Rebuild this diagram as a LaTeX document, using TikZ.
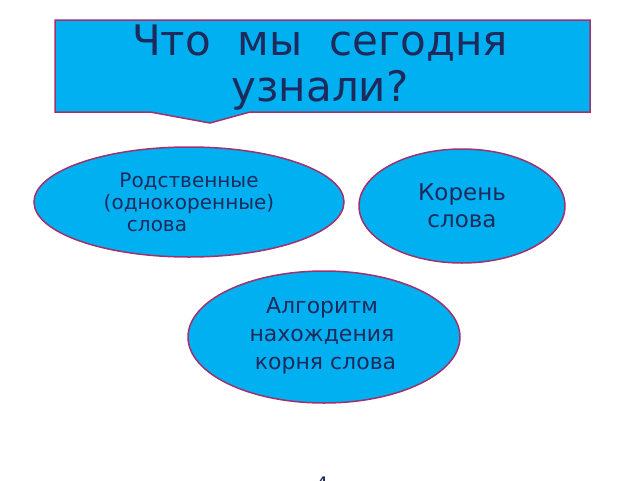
\documentclass[tikz,border=0pt]{standalone}
\usepackage{fontspec}
\setmainfont{DejaVu Sans}
\definecolor{fillc}{HTML}{00B0F0}
\definecolor{edgec}{HTML}{A0306E}
\definecolor{txt}{HTML}{1F2A5C}
\begin{document}
\begin{tikzpicture}[x=1pt,y=-1pt,
  bub/.style={fill=fillc,draw=edgec,line width=1.5pt},
  lab/.style 2 args={text=txt,align=center,font=\fontsize{#1}{#2}\selectfont}]
\useasboundingbox (0,0) rectangle (640,480);
\draw[bub] (55,20) -- (590,20) -- (590,112) -- (250,112) -- (210,123) -- (150,112) -- (55,112) -- cycle;
\node[lab={42}{46}] (title) at (320,68) {Что\ \ мы\ \ сегодня\\узнали?};
\draw[bub] (189,202) ellipse [x radius=155, y radius=55];
\node[lab={20}{22}] (e1) at (189,202) {Родственные\\(однокоренные)\\\hspace*{-3.2em}слова};
\draw[bub] (462,206) ellipse [x radius=103, y radius=57];
\node[lab={23}{27}] (e2) at (462,206) {Корень\\слова};
\draw[bub] (324,337) ellipse [x radius=136, y radius=66];
\node[lab={22}{28}] (e3) at (322,336) {Алгоритм\\нахождения\\\ корня слова};
\node[lab={20}{24}] (n) at (322,484) {4};
\end{tikzpicture}
\end{document}
